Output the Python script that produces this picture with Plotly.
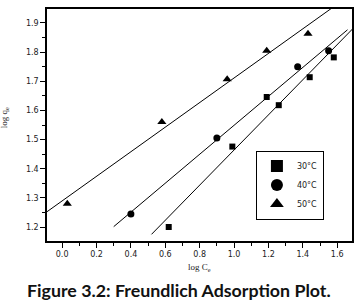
import numpy as np
import plotly.graph_objects as go

# Data
x_30 = [0.62, 0.99, 1.19, 1.26, 1.44, 1.58]
y_30 = [1.200, 1.476, 1.646, 1.618, 1.714, 1.782]
x_40 = [0.40, 0.90, 1.37, 1.55]
y_40 = [1.245, 1.505, 1.750, 1.805]
x_50 = [0.03, 0.58, 0.96, 1.19, 1.43]
y_50 = [1.280, 1.560, 1.707, 1.805, 1.863]
series_names = ["30°C", "40°C", "50°C"]
fit_ranges = [[0.52, 1.69], [0.30, 1.66], [-0.09, 1.69]]
x_ticks = [0.0, 0.2, 0.4, 0.6, 0.8, 1.0, 1.2, 1.4, 1.6]
y_ticks = [1.2, 1.3, 1.4, 1.5, 1.6, 1.7, 1.8, 1.9]

XR = [-0.088, 1.686]
YR = [1.152, 1.948]

symbols = ["square", "circle", "triangle-up"]
sizes = [6, 7, 8]
datasets = [(x_30, y_30), (x_40, y_40), (x_50, y_50)]

fig = go.Figure()
for (xs, ys), rng in zip(datasets, fit_ranges):
    m, c = np.polyfit(xs, ys, 1)
    xl = np.array(rng)
    fig.add_trace(go.Scatter(x=xl, y=m * xl + c, mode="lines",
                             line=dict(color="black", width=1),
                             showlegend=False, hoverinfo="skip"))
for (xs, ys), name, sym, sz in zip(datasets, series_names, symbols, sizes):
    fig.add_trace(go.Scatter(x=xs, y=ys, mode="markers", name=name,
                             marker=dict(symbol=sym, size=sz, color="black")))

tickfont = dict(family="DejaVu Sans", size=8, color="#222")
fig.update_xaxes(range=XR, tickvals=x_ticks, ticktext=[f"{v:.1f}" for v in x_ticks],
                 ticks="outside", ticklen=5, tickwidth=1, tickcolor="black",
                 minor=dict(ticks="outside", ticklen=3, dtick=0.1, tickcolor="black"),
                 showline=True, linecolor="black", linewidth=1.5, mirror=True,
                 showgrid=False, zeroline=False, tickfont=tickfont)
fig.update_yaxes(range=YR, tickvals=y_ticks, ticktext=[f"{v:.1f}" for v in y_ticks],
                 ticks="outside", ticklen=5, tickwidth=1, tickcolor="black",
                 minor=dict(ticks="outside", ticklen=3, dtick=0.05, tickcolor="black"),
                 showline=True, linecolor="black", linewidth=1.5, mirror=True,
                 showgrid=False, zeroline=False, tickfont=tickfont)

fig.update_layout(
    width=363, height=303,
    margin=dict(l=47, r=11, t=7, b=62),
    paper_bgcolor="white", plot_bgcolor="white",
    legend=dict(x=0.685, y=0.39, xanchor="left", yanchor="top",
                bordercolor="black", borderwidth=1, bgcolor="white",
                font=dict(family="DejaVu Sans", size=8, color="#222"),
                itemsizing="constant", itemwidth=30, tracegroupgap=0),
    annotations=[
        dict(text="log C<sub>e</sub>", x=0.5, y=-0.115, xref="paper", yref="paper",
             showarrow=False, xanchor="center", yanchor="middle",
             font=dict(family="Liberation Serif", size=9, color="#222")),
        dict(text="log q<sub>e</sub>", x=-0.14, y=0.53, xref="paper", yref="paper",
             showarrow=False, textangle=-90, xanchor="center", yanchor="middle",
             font=dict(family="Liberation Serif", size=9, color="#222")),
        dict(text="<b>Figure 3.2: Freundlich Adsorption Plot.</b>", x=0.434, y=-0.212,
             xref="paper", yref="paper", showarrow=False, xanchor="center", yanchor="middle",
             font=dict(family="Lato", size=17.8, color="#111")),
    ],
)

fig.write_html("out.html")
